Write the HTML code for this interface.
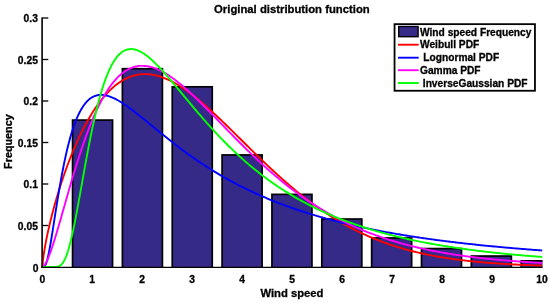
<!DOCTYPE html>
<html><head><meta charset="utf-8"><title>Original distribution function</title>
<style>html,body{margin:0;padding:0;background:#fff}svg{display:block}text{font-family:"Liberation Sans",Arial,sans-serif;font-weight:bold;fill:#000;stroke:#000;stroke-width:0.3px}</style></head>
<body><svg width="550" height="303" viewBox="0 0 550 303">
<rect width="550" height="303" fill="#fff"/>
<defs><clipPath id="c"><rect x="41.4" y="10" width="501.1" height="258.05"/></clipPath></defs>

<g clip-path="url(#c)" fill="#352a87" stroke="#000" stroke-width="1.7">
<rect x="72.55" y="120.09" width="40.00" height="151.91"/>
<rect x="122.40" y="68.71" width="40.00" height="203.29"/>
<rect x="172.25" y="86.81" width="40.00" height="185.19"/>
<rect x="222.10" y="154.95" width="40.00" height="117.05"/>
<rect x="271.95" y="194.38" width="40.00" height="77.62"/>
<rect x="321.80" y="219.03" width="40.00" height="52.97"/>
<rect x="371.65" y="237.95" width="40.00" height="34.05"/>
<rect x="421.50" y="248.57" width="40.00" height="23.43"/>
<rect x="471.35" y="256.04" width="40.00" height="15.96"/>
<rect x="521.20" y="260.86" width="40.00" height="11.14"/>
</g>
<g clip-path="url(#c)" fill="none" stroke-width="1.9" stroke-linejoin="round">
<path d="M42.40,267.00 L43.02,259.79 L43.65,255.07 L44.27,250.99 L44.90,247.27 L45.52,243.80 L46.15,240.52 L46.77,237.40 L47.40,234.40 L48.02,231.50 L48.65,228.70 L49.27,225.97 L49.90,223.32 L50.52,220.74 L51.15,218.21 L51.77,215.74 L52.40,213.33 L53.02,210.95 L53.65,208.63 L54.27,206.34 L54.90,204.10 L55.52,201.89 L56.15,199.72 L56.77,197.58 L57.40,195.48 L58.02,193.41 L58.65,191.37 L59.27,189.35 L59.90,187.37 L60.53,185.41 L61.15,183.48 L61.77,181.58 L62.40,179.70 L63.02,177.85 L63.65,176.02 L64.28,174.22 L64.90,172.44 L65.53,170.68 L66.15,168.94 L66.78,167.22 L67.40,165.53 L68.03,163.86 L68.65,162.21 L69.28,160.58 L69.90,158.97 L70.53,157.37 L71.15,155.80 L71.78,154.25 L72.40,152.72 L73.03,151.20 L73.65,149.71 L74.28,148.23 L74.90,146.77 L75.53,145.33 L76.15,143.91 L76.78,142.50 L77.40,141.11 L78.03,139.74 L78.65,138.39 L79.28,137.05 L79.90,135.74 L80.53,134.43 L81.15,133.15 L81.78,131.88 L82.40,130.63 L83.03,129.39 L83.65,128.17 L84.28,126.97 L84.90,125.78 L85.53,124.60 L86.15,123.45 L86.78,122.31 L87.40,121.18 L88.03,120.07 L88.65,118.98 L89.28,117.90 L89.90,116.83 L90.53,115.78 L91.15,114.75 L91.78,113.73 L92.40,112.73 L93.65,110.76 L94.90,108.86 L96.15,107.01 L97.40,105.22 L98.65,103.48 L99.90,101.81 L101.15,100.18 L102.40,98.61 L103.65,97.10 L104.90,95.64 L106.15,94.23 L107.40,92.88 L108.65,91.58 L109.90,90.33 L111.15,89.13 L112.40,87.98 L113.65,86.88 L114.90,85.83 L116.15,84.83 L117.40,83.88 L118.65,82.97 L119.90,82.12 L121.15,81.31 L122.40,80.54 L123.65,79.82 L124.90,79.15 L126.15,78.52 L127.40,77.94 L128.65,77.40 L129.90,76.90 L131.15,76.45 L132.40,76.04 L133.65,75.66 L134.90,75.33 L136.15,75.04 L137.40,74.79 L138.65,74.58 L139.90,74.41 L141.15,74.28 L142.40,74.18 L143.65,74.12 L144.90,74.10 L146.15,74.12 L147.40,74.16 L148.65,74.25 L149.90,74.37 L151.15,74.52 L152.40,74.70 L153.65,74.92 L154.90,75.17 L156.15,75.45 L157.40,75.76 L158.65,76.11 L159.90,76.48 L161.15,76.88 L162.40,77.31 L163.65,77.77 L164.90,78.26 L166.15,78.77 L167.40,79.31 L168.65,79.87 L169.90,80.47 L171.15,81.08 L172.40,81.72 L173.65,82.39 L174.90,83.07 L176.15,83.78 L177.40,84.52 L178.65,85.27 L179.90,86.04 L181.15,86.84 L182.40,87.65 L183.65,88.49 L184.90,89.34 L186.15,90.21 L187.40,91.11 L188.65,92.01 L189.90,92.94 L191.15,93.88 L192.40,94.84 L193.65,95.81 L194.90,96.80 L196.15,97.80 L197.40,98.81 L198.65,99.84 L199.90,100.88 L201.15,101.94 L202.40,103.01 L203.65,104.09 L204.90,105.17 L206.15,106.28 L207.40,107.39 L208.65,108.51 L209.90,109.64 L211.15,110.78 L212.40,111.92 L213.65,113.08 L214.90,114.24 L216.15,115.41 L217.40,116.59 L218.65,117.78 L219.90,118.97 L221.15,120.16 L222.40,121.36 L223.65,122.57 L224.90,123.78 L226.15,124.99 L227.40,126.21 L228.65,127.44 L229.90,128.66 L231.15,129.89 L232.40,131.12 L233.65,132.35 L234.90,133.59 L236.15,134.82 L237.40,136.06 L238.65,137.30 L239.90,138.54 L241.15,139.77 L242.40,141.01 L243.65,142.25 L244.90,143.49 L246.15,144.73 L247.40,145.96 L248.65,147.20 L249.90,148.43 L251.15,149.66 L252.40,150.89 L253.65,152.11 L254.90,153.33 L256.15,154.55 L257.40,155.77 L258.65,156.98 L259.90,158.19 L261.15,159.40 L262.40,160.60 L263.65,161.80 L264.90,162.99 L266.15,164.18 L267.40,165.36 L268.65,166.54 L269.90,167.71 L271.15,168.88 L272.40,170.04 L273.65,171.20 L274.90,172.35 L276.15,173.50 L277.40,174.63 L278.65,175.77 L279.90,176.89 L281.15,178.01 L282.40,179.12 L283.65,180.23 L284.90,181.33 L286.15,182.42 L287.40,183.51 L288.65,184.58 L289.90,185.65 L291.15,186.72 L292.40,187.77 L293.65,188.82 L294.90,189.86 L296.15,190.89 L297.40,191.91 L298.65,192.93 L299.90,193.94 L301.15,194.94 L302.40,195.93 L303.65,196.91 L304.90,197.89 L306.15,198.86 L307.40,199.81 L308.65,200.77 L309.90,201.71 L311.15,202.64 L312.40,203.56 L313.65,204.48 L314.90,205.39 L316.15,206.29 L317.40,207.18 L318.65,208.06 L319.90,208.93 L321.15,209.80 L322.40,210.65 L323.65,211.50 L324.90,212.34 L326.15,213.17 L327.40,213.99 L328.65,214.80 L329.90,215.60 L331.15,216.40 L332.40,217.19 L333.65,217.96 L334.90,218.73 L336.15,219.49 L337.40,220.24 L338.65,220.99 L339.90,221.72 L341.15,222.45 L342.40,223.17 L343.65,223.87 L344.90,224.57 L346.15,225.27 L347.40,225.95 L348.65,226.63 L349.90,227.29 L351.15,227.95 L352.40,228.60 L353.65,229.24 L354.90,229.88 L356.15,230.50 L357.40,231.12 L358.65,231.73 L359.90,232.33 L361.15,232.93 L362.40,233.51 L363.65,234.09 L364.90,234.66 L366.15,235.23 L367.40,235.78 L368.65,236.33 L369.90,236.87 L371.15,237.40 L372.40,237.93 L373.65,238.44 L374.90,238.95 L376.15,239.46 L377.40,239.95 L378.65,240.44 L379.90,240.92 L381.15,241.40 L382.40,241.86 L383.65,242.33 L384.90,242.78 L386.15,243.23 L387.40,243.67 L388.65,244.10 L389.90,244.53 L391.15,244.95 L392.40,245.36 L393.65,245.77 L394.90,246.17 L396.15,246.57 L397.40,246.96 L398.65,247.34 L399.90,247.71 L401.15,248.09 L402.40,248.45 L403.65,248.81 L404.90,249.16 L406.15,249.51 L407.40,249.85 L408.65,250.19 L409.90,250.52 L411.15,250.84 L412.40,251.16 L413.65,251.48 L414.90,251.79 L416.15,252.09 L417.40,252.39 L418.65,252.68 L419.90,252.97 L421.15,253.26 L422.40,253.53 L423.65,253.81 L424.90,254.08 L426.15,254.34 L427.40,254.60 L428.65,254.86 L429.90,255.11 L431.15,255.35 L432.40,255.60 L433.65,255.83 L434.90,256.07 L436.15,256.30 L437.40,256.52 L438.65,256.74 L439.90,256.96 L441.15,257.17 L442.40,257.38 L443.65,257.59 L444.90,257.79 L446.15,257.98 L447.40,258.18 L448.65,258.37 L449.90,258.55 L451.15,258.74 L452.40,258.92 L453.65,259.09 L454.90,259.27 L456.15,259.44 L457.40,259.60 L458.65,259.76 L459.90,259.92 L461.15,260.08 L462.40,260.23 L463.65,260.39 L464.90,260.53 L466.15,260.68 L467.40,260.82 L468.65,260.96 L469.90,261.09 L471.15,261.23 L472.40,261.36 L473.65,261.49 L474.90,261.61 L476.15,261.74 L477.40,261.86 L478.65,261.97 L479.90,262.09 L481.15,262.20 L482.40,262.31 L483.65,262.42 L484.90,262.53 L486.15,262.63 L487.40,262.74 L488.65,262.84 L489.90,262.93 L491.15,263.03 L492.40,263.12 L493.65,263.21 L494.90,263.30 L496.15,263.39 L497.40,263.48 L498.65,263.56 L499.90,263.64 L501.15,263.72 L502.40,263.80 L503.65,263.88 L504.90,263.96 L506.15,264.03 L507.40,264.10 L508.65,264.17 L509.90,264.24 L511.15,264.31 L512.40,264.37 L513.65,264.44 L514.90,264.50 L516.15,264.56 L517.40,264.62 L518.65,264.68 L519.90,264.74 L521.15,264.80 L522.40,264.85 L523.65,264.90 L524.90,264.96 L526.15,265.01 L527.40,265.06 L528.65,265.11 L529.90,265.15 L531.15,265.20 L532.40,265.25 L533.65,265.29 L534.90,265.34 L536.15,265.38 L537.40,265.42 L538.65,265.46 L539.90,265.50 L541.15,265.54 L542.40,265.58" stroke="#ff0000"/>
<path d="M42.40,267.00 L43.02,267.00 L43.65,266.91 L44.27,266.60 L44.90,265.95 L45.52,264.89 L46.15,263.42 L46.77,261.54 L47.40,259.29 L48.02,256.69 L48.65,253.80 L49.27,250.66 L49.90,247.30 L50.52,243.76 L51.15,240.07 L51.77,236.27 L52.40,232.39 L53.02,228.44 L53.65,224.46 L54.27,220.46 L54.90,216.45 L55.52,212.46 L56.15,208.49 L56.77,204.56 L57.40,200.67 L58.02,196.84 L58.65,193.07 L59.27,189.36 L59.90,185.73 L60.53,182.17 L61.15,178.69 L61.77,175.29 L62.40,171.98 L63.02,168.75 L63.65,165.60 L64.28,162.54 L64.90,159.57 L65.53,156.68 L66.15,153.88 L66.78,151.16 L67.40,148.53 L68.03,145.98 L68.65,143.52 L69.28,141.14 L69.90,138.83 L70.53,136.61 L71.15,134.47 L71.78,132.40 L72.40,130.40 L73.03,128.48 L73.65,126.63 L74.28,124.85 L74.90,123.14 L75.53,121.50 L76.15,119.92 L76.78,118.41 L77.40,116.96 L78.03,115.57 L78.65,114.24 L79.28,112.96 L79.90,111.75 L80.53,110.59 L81.15,109.48 L81.78,108.42 L82.40,107.42 L83.03,106.46 L83.65,105.55 L84.28,104.69 L84.90,103.87 L85.53,103.10 L86.15,102.36 L86.78,101.67 L87.40,101.03 L88.03,100.42 L88.65,99.84 L89.28,99.31 L89.90,98.81 L90.53,98.34 L91.15,97.91 L91.78,97.51 L92.40,97.15 L93.65,96.51 L94.90,95.98 L96.15,95.56 L97.40,95.25 L98.65,95.03 L99.90,94.91 L101.15,94.86 L102.40,94.90 L103.65,95.01 L104.90,95.20 L106.15,95.45 L107.40,95.76 L108.65,96.12 L109.90,96.54 L111.15,97.02 L112.40,97.53 L113.65,98.10 L114.90,98.70 L116.15,99.34 L117.40,100.02 L118.65,100.73 L119.90,101.47 L121.15,102.24 L122.40,103.04 L123.65,103.86 L124.90,104.70 L126.15,105.56 L127.40,106.44 L128.65,107.34 L129.90,108.26 L131.15,109.19 L132.40,110.13 L133.65,111.09 L134.90,112.05 L136.15,113.03 L137.40,114.02 L138.65,115.01 L139.90,116.01 L141.15,117.01 L142.40,118.02 L143.65,119.04 L144.90,120.05 L146.15,121.08 L147.40,122.10 L148.65,123.12 L149.90,124.15 L151.15,125.17 L152.40,126.20 L153.65,127.23 L154.90,128.25 L156.15,129.27 L157.40,130.29 L158.65,131.31 L159.90,132.33 L161.15,133.34 L162.40,134.35 L163.65,135.36 L164.90,136.36 L166.15,137.36 L167.40,138.36 L168.65,139.35 L169.90,140.34 L171.15,141.32 L172.40,142.29 L173.65,143.26 L174.90,144.23 L176.15,145.19 L177.40,146.15 L178.65,147.09 L179.90,148.04 L181.15,148.97 L182.40,149.91 L183.65,150.83 L184.90,151.75 L186.15,152.66 L187.40,153.57 L188.65,154.47 L189.90,155.36 L191.15,156.25 L192.40,157.13 L193.65,158.00 L194.90,158.87 L196.15,159.73 L197.40,160.59 L198.65,161.44 L199.90,162.28 L201.15,163.11 L202.40,163.94 L203.65,164.76 L204.90,165.58 L206.15,166.38 L207.40,167.19 L208.65,167.98 L209.90,168.77 L211.15,169.55 L212.40,170.33 L213.65,171.10 L214.90,171.86 L216.15,172.61 L217.40,173.36 L218.65,174.11 L219.90,174.84 L221.15,175.58 L222.40,176.30 L223.65,177.02 L224.90,177.73 L226.15,178.43 L227.40,179.13 L228.65,179.83 L229.90,180.51 L231.15,181.20 L232.40,181.87 L233.65,182.54 L234.90,183.20 L236.15,183.86 L237.40,184.51 L238.65,185.16 L239.90,185.80 L241.15,186.43 L242.40,187.06 L243.65,187.68 L244.90,188.30 L246.15,188.91 L247.40,189.52 L248.65,190.12 L249.90,190.72 L251.15,191.31 L252.40,191.89 L253.65,192.47 L254.90,193.05 L256.15,193.62 L257.40,194.18 L258.65,194.74 L259.90,195.29 L261.15,195.84 L262.40,196.39 L263.65,196.92 L264.90,197.46 L266.15,197.99 L267.40,198.51 L268.65,199.03 L269.90,199.55 L271.15,200.06 L272.40,200.57 L273.65,201.07 L274.90,201.56 L276.15,202.06 L277.40,202.55 L278.65,203.03 L279.90,203.51 L281.15,203.98 L282.40,204.45 L283.65,204.92 L284.90,205.38 L286.15,205.84 L287.40,206.30 L288.65,206.75 L289.90,207.19 L291.15,207.64 L292.40,208.07 L293.65,208.51 L294.90,208.94 L296.15,209.36 L297.40,209.79 L298.65,210.21 L299.90,210.62 L301.15,211.03 L302.40,211.44 L303.65,211.85 L304.90,212.25 L306.15,212.64 L307.40,213.04 L308.65,213.43 L309.90,213.82 L311.15,214.20 L312.40,214.58 L313.65,214.96 L314.90,215.33 L316.15,215.70 L317.40,216.07 L318.65,216.43 L319.90,216.79 L321.15,217.15 L322.40,217.50 L323.65,217.85 L324.90,218.20 L326.15,218.55 L327.40,218.89 L328.65,219.23 L329.90,219.57 L331.15,219.90 L332.40,220.23 L333.65,220.56 L334.90,220.88 L336.15,221.20 L337.40,221.52 L338.65,221.84 L339.90,222.15 L341.15,222.47 L342.40,222.77 L343.65,223.08 L344.90,223.38 L346.15,223.68 L347.40,223.98 L348.65,224.28 L349.90,224.57 L351.15,224.86 L352.40,225.15 L353.65,225.44 L354.90,225.72 L356.15,226.00 L357.40,226.28 L358.65,226.56 L359.90,226.83 L361.15,227.10 L362.40,227.37 L363.65,227.64 L364.90,227.90 L366.15,228.17 L367.40,228.43 L368.65,228.68 L369.90,228.94 L371.15,229.20 L372.40,229.45 L373.65,229.70 L374.90,229.95 L376.15,230.19 L377.40,230.43 L378.65,230.68 L379.90,230.92 L381.15,231.15 L382.40,231.39 L383.65,231.62 L384.90,231.86 L386.15,232.09 L387.40,232.32 L388.65,232.54 L389.90,232.77 L391.15,232.99 L392.40,233.21 L393.65,233.43 L394.90,233.65 L396.15,233.86 L397.40,234.08 L398.65,234.29 L399.90,234.50 L401.15,234.71 L402.40,234.92 L403.65,235.12 L404.90,235.33 L406.15,235.53 L407.40,235.73 L408.65,235.93 L409.90,236.13 L411.15,236.32 L412.40,236.52 L413.65,236.71 L414.90,236.90 L416.15,237.09 L417.40,237.28 L418.65,237.47 L419.90,237.65 L421.15,237.84 L422.40,238.02 L423.65,238.20 L424.90,238.38 L426.15,238.56 L427.40,238.74 L428.65,238.91 L429.90,239.09 L431.15,239.26 L432.40,239.43 L433.65,239.60 L434.90,239.77 L436.15,239.94 L437.40,240.11 L438.65,240.27 L439.90,240.43 L441.15,240.60 L442.40,240.76 L443.65,240.92 L444.90,241.08 L446.15,241.24 L447.40,241.39 L448.65,241.55 L449.90,241.70 L451.15,241.86 L452.40,242.01 L453.65,242.16 L454.90,242.31 L456.15,242.46 L457.40,242.60 L458.65,242.75 L459.90,242.90 L461.15,243.04 L462.40,243.18 L463.65,243.32 L464.90,243.47 L466.15,243.61 L467.40,243.74 L468.65,243.88 L469.90,244.02 L471.15,244.16 L472.40,244.29 L473.65,244.42 L474.90,244.56 L476.15,244.69 L477.40,244.82 L478.65,244.95 L479.90,245.08 L481.15,245.21 L482.40,245.33 L483.65,245.46 L484.90,245.59 L486.15,245.71 L487.40,245.83 L488.65,245.96 L489.90,246.08 L491.15,246.20 L492.40,246.32 L493.65,246.44 L494.90,246.56 L496.15,246.67 L497.40,246.79 L498.65,246.91 L499.90,247.02 L501.15,247.14 L502.40,247.25 L503.65,247.36 L504.90,247.47 L506.15,247.58 L507.40,247.69 L508.65,247.80 L509.90,247.91 L511.15,248.02 L512.40,248.13 L513.65,248.23 L514.90,248.34 L516.15,248.44 L517.40,248.55 L518.65,248.65 L519.90,248.75 L521.15,248.86 L522.40,248.96 L523.65,249.06 L524.90,249.16 L526.15,249.26 L527.40,249.36 L528.65,249.45 L529.90,249.55 L531.15,249.65 L532.40,249.74 L533.65,249.84 L534.90,249.93 L536.15,250.03 L537.40,250.12 L538.65,250.21 L539.90,250.30 L541.15,250.40 L542.40,250.49" stroke="#0000ff"/>
<path d="M42.40,267.00 L43.02,266.74 L43.65,266.20 L44.27,265.46 L44.90,264.57 L45.52,263.54 L46.15,262.39 L46.77,261.13 L47.40,259.78 L48.02,258.35 L48.65,256.83 L49.27,255.25 L49.90,253.59 L50.52,251.88 L51.15,250.12 L51.77,248.30 L52.40,246.44 L53.02,244.54 L53.65,242.60 L54.27,240.62 L54.90,238.62 L55.52,236.58 L56.15,234.52 L56.77,232.44 L57.40,230.34 L58.02,228.21 L58.65,226.08 L59.27,223.92 L59.90,221.76 L60.53,219.59 L61.15,217.40 L61.77,215.21 L62.40,213.02 L63.02,210.82 L63.65,208.62 L64.28,206.42 L64.90,204.22 L65.53,202.02 L66.15,199.83 L66.78,197.64 L67.40,195.45 L68.03,193.27 L68.65,191.10 L69.28,188.94 L69.90,186.78 L70.53,184.64 L71.15,182.50 L71.78,180.38 L72.40,178.27 L73.03,176.17 L73.65,174.08 L74.28,172.01 L74.90,169.96 L75.53,167.91 L76.15,165.89 L76.78,163.88 L77.40,161.89 L78.03,159.91 L78.65,157.95 L79.28,156.01 L79.90,154.09 L80.53,152.19 L81.15,150.30 L81.78,148.44 L82.40,146.59 L83.03,144.76 L83.65,142.96 L84.28,141.17 L84.90,139.41 L85.53,137.67 L86.15,135.94 L86.78,134.24 L87.40,132.56 L88.03,130.90 L88.65,129.27 L89.28,127.65 L89.90,126.06 L90.53,124.48 L91.15,122.94 L91.78,121.41 L92.40,119.90 L93.65,116.96 L94.90,114.10 L96.15,111.34 L97.40,108.66 L98.65,106.08 L99.90,103.58 L101.15,101.17 L102.40,98.85 L103.65,96.62 L104.90,94.48 L106.15,92.42 L107.40,90.45 L108.65,88.56 L109.90,86.76 L111.15,85.04 L112.40,83.41 L113.65,81.85 L114.90,80.38 L116.15,78.99 L117.40,77.67 L118.65,76.43 L119.90,75.27 L121.15,74.18 L122.40,73.16 L123.65,72.22 L124.90,71.35 L126.15,70.54 L127.40,69.81 L128.65,69.14 L129.90,68.54 L131.15,68.00 L132.40,67.52 L133.65,67.11 L134.90,66.76 L136.15,66.46 L137.40,66.23 L138.65,66.05 L139.90,65.92 L141.15,65.85 L142.40,65.83 L143.65,65.87 L144.90,65.95 L146.15,66.08 L147.40,66.26 L148.65,66.48 L149.90,66.75 L151.15,67.06 L152.40,67.42 L153.65,67.82 L154.90,68.25 L156.15,68.73 L157.40,69.24 L158.65,69.79 L159.90,70.38 L161.15,71.00 L162.40,71.65 L163.65,72.34 L164.90,73.05 L166.15,73.80 L167.40,74.57 L168.65,75.38 L169.90,76.21 L171.15,77.07 L172.40,77.95 L173.65,78.85 L174.90,79.78 L176.15,80.74 L177.40,81.71 L178.65,82.70 L179.90,83.72 L181.15,84.75 L182.40,85.80 L183.65,86.87 L184.90,87.96 L186.15,89.06 L187.40,90.17 L188.65,91.30 L189.90,92.45 L191.15,93.60 L192.40,94.77 L193.65,95.95 L194.90,97.14 L196.15,98.34 L197.40,99.55 L198.65,100.77 L199.90,102.00 L201.15,103.23 L202.40,104.48 L203.65,105.73 L204.90,106.98 L206.15,108.24 L207.40,109.51 L208.65,110.78 L209.90,112.05 L211.15,113.33 L212.40,114.61 L213.65,115.89 L214.90,117.18 L216.15,118.47 L217.40,119.76 L218.65,121.05 L219.90,122.34 L221.15,123.63 L222.40,124.92 L223.65,126.21 L224.90,127.50 L226.15,128.78 L227.40,130.07 L228.65,131.35 L229.90,132.64 L231.15,133.92 L232.40,135.19 L233.65,136.47 L234.90,137.74 L236.15,139.00 L237.40,140.27 L238.65,141.52 L239.90,142.78 L241.15,144.03 L242.40,145.27 L243.65,146.51 L244.90,147.75 L246.15,148.98 L247.40,150.20 L248.65,151.42 L249.90,152.63 L251.15,153.84 L252.40,155.04 L253.65,156.24 L254.90,157.42 L256.15,158.60 L257.40,159.78 L258.65,160.95 L259.90,162.11 L261.15,163.26 L262.40,164.41 L263.65,165.54 L264.90,166.68 L266.15,167.80 L267.40,168.92 L268.65,170.02 L269.90,171.13 L271.15,172.22 L272.40,173.30 L273.65,174.38 L274.90,175.45 L276.15,176.51 L277.40,177.56 L278.65,178.61 L279.90,179.64 L281.15,180.67 L282.40,181.69 L283.65,182.70 L284.90,183.71 L286.15,184.70 L287.40,185.69 L288.65,186.67 L289.90,187.64 L291.15,188.60 L292.40,189.55 L293.65,190.49 L294.90,191.43 L296.15,192.36 L297.40,193.27 L298.65,194.18 L299.90,195.09 L301.15,195.98 L302.40,196.87 L303.65,197.74 L304.90,198.61 L306.15,199.47 L307.40,200.32 L308.65,201.16 L309.90,202.00 L311.15,202.83 L312.40,203.64 L313.65,204.45 L314.90,205.25 L316.15,206.05 L317.40,206.83 L318.65,207.61 L319.90,208.38 L321.15,209.14 L322.40,209.89 L323.65,210.64 L324.90,211.38 L326.15,212.11 L327.40,212.83 L328.65,213.54 L329.90,214.25 L331.15,214.94 L332.40,215.64 L333.65,216.32 L334.90,216.99 L336.15,217.66 L337.40,218.32 L338.65,218.97 L339.90,219.62 L341.15,220.26 L342.40,220.89 L343.65,221.51 L344.90,222.13 L346.15,222.74 L347.40,223.34 L348.65,223.94 L349.90,224.52 L351.15,225.10 L352.40,225.68 L353.65,226.25 L354.90,226.81 L356.15,227.36 L357.40,227.91 L358.65,228.45 L359.90,228.99 L361.15,229.51 L362.40,230.03 L363.65,230.55 L364.90,231.06 L366.15,231.56 L367.40,232.06 L368.65,232.55 L369.90,233.03 L371.15,233.51 L372.40,233.98 L373.65,234.45 L374.90,234.91 L376.15,235.37 L377.40,235.82 L378.65,236.26 L379.90,236.70 L381.15,237.13 L382.40,237.56 L383.65,237.98 L384.90,238.39 L386.15,238.80 L387.40,239.21 L388.65,239.61 L389.90,240.00 L391.15,240.39 L392.40,240.78 L393.65,241.16 L394.90,241.53 L396.15,241.90 L397.40,242.27 L398.65,242.63 L399.90,242.98 L401.15,243.33 L402.40,243.68 L403.65,244.02 L404.90,244.36 L406.15,244.69 L407.40,245.02 L408.65,245.34 L409.90,245.66 L411.15,245.97 L412.40,246.28 L413.65,246.59 L414.90,246.89 L416.15,247.19 L417.40,247.48 L418.65,247.77 L419.90,248.06 L421.15,248.34 L422.40,248.62 L423.65,248.89 L424.90,249.16 L426.15,249.43 L427.40,249.69 L428.65,249.95 L429.90,250.21 L431.15,250.46 L432.40,250.71 L433.65,250.96 L434.90,251.20 L436.15,251.44 L437.40,251.67 L438.65,251.90 L439.90,252.13 L441.15,252.36 L442.40,252.58 L443.65,252.80 L444.90,253.02 L446.15,253.23 L447.40,253.44 L448.65,253.64 L449.90,253.85 L451.15,254.05 L452.40,254.25 L453.65,254.44 L454.90,254.64 L456.15,254.82 L457.40,255.01 L458.65,255.20 L459.90,255.38 L461.15,255.56 L462.40,255.73 L463.65,255.91 L464.90,256.08 L466.15,256.25 L467.40,256.41 L468.65,256.58 L469.90,256.74 L471.15,256.90 L472.40,257.05 L473.65,257.21 L474.90,257.36 L476.15,257.51 L477.40,257.66 L478.65,257.80 L479.90,257.95 L481.15,258.09 L482.40,258.23 L483.65,258.37 L484.90,258.50 L486.15,258.63 L487.40,258.77 L488.65,258.89 L489.90,259.02 L491.15,259.15 L492.40,259.27 L493.65,259.39 L494.90,259.51 L496.15,259.63 L497.40,259.75 L498.65,259.86 L499.90,259.97 L501.15,260.09 L502.40,260.19 L503.65,260.30 L504.90,260.41 L506.15,260.51 L507.40,260.62 L508.65,260.72 L509.90,260.82 L511.15,260.92 L512.40,261.01 L513.65,261.11 L514.90,261.20 L516.15,261.29 L517.40,261.39 L518.65,261.48 L519.90,261.56 L521.15,261.65 L522.40,261.74 L523.65,261.82 L524.90,261.90 L526.15,261.99 L527.40,262.07 L528.65,262.15 L529.90,262.22 L531.15,262.30 L532.40,262.38 L533.65,262.45 L534.90,262.52 L536.15,262.60 L537.40,262.67 L538.65,262.74 L539.90,262.81 L541.15,262.87 L542.40,262.94" stroke="#ff00ff"/>
<path d="M42.40,267.00 L43.02,267.00 L43.65,267.00 L44.27,267.00 L44.90,267.00 L45.52,267.00 L46.15,267.00 L46.77,267.00 L47.40,267.00 L48.02,267.00 L48.65,267.00 L49.27,267.00 L49.90,267.00 L50.52,267.00 L51.15,267.00 L51.77,267.00 L52.40,267.00 L53.02,267.00 L53.65,266.99 L54.27,266.98 L54.90,266.96 L55.52,266.92 L56.15,266.87 L56.77,266.79 L57.40,266.68 L58.02,266.52 L58.65,266.31 L59.27,266.04 L59.90,265.70 L60.53,265.27 L61.15,264.75 L61.77,264.13 L62.40,263.39 L63.02,262.54 L63.65,261.56 L64.28,260.45 L64.90,259.21 L65.53,257.83 L66.15,256.31 L66.78,254.66 L67.40,252.86 L68.03,250.93 L68.65,248.86 L69.28,246.66 L69.90,244.33 L70.53,241.88 L71.15,239.32 L71.78,236.64 L72.40,233.86 L73.03,230.98 L73.65,228.01 L74.28,224.96 L74.90,221.82 L75.53,218.62 L76.15,215.36 L76.78,212.04 L77.40,208.67 L78.03,205.26 L78.65,201.82 L79.28,198.35 L79.90,194.86 L80.53,191.35 L81.15,187.83 L81.78,184.31 L82.40,180.79 L83.03,177.27 L83.65,173.77 L84.28,170.28 L84.90,166.81 L85.53,163.37 L86.15,159.96 L86.78,156.57 L87.40,153.22 L88.03,149.91 L88.65,146.64 L89.28,143.42 L89.90,140.24 L90.53,137.10 L91.15,134.02 L91.78,130.99 L92.40,128.01 L93.65,122.22 L94.90,116.66 L96.15,111.33 L97.40,106.25 L98.65,101.40 L99.90,96.80 L101.15,92.45 L102.40,88.34 L103.65,84.47 L104.90,80.83 L106.15,77.43 L107.40,74.26 L108.65,71.31 L109.90,68.58 L111.15,66.06 L112.40,63.74 L113.65,61.62 L114.90,59.69 L116.15,57.95 L117.40,56.39 L118.65,55.00 L119.90,53.77 L121.15,52.70 L122.40,51.78 L123.65,51.00 L124.90,50.37 L126.15,49.86 L127.40,49.48 L128.65,49.22 L129.90,49.08 L131.15,49.04 L132.40,49.11 L133.65,49.28 L134.90,49.53 L136.15,49.88 L137.40,50.31 L138.65,50.82 L139.90,51.41 L141.15,52.06 L142.40,52.78 L143.65,53.57 L144.90,54.41 L146.15,55.31 L147.40,56.26 L148.65,57.26 L149.90,58.30 L151.15,59.39 L152.40,60.52 L153.65,61.68 L154.90,62.88 L156.15,64.12 L157.40,65.38 L158.65,66.67 L159.90,67.99 L161.15,69.32 L162.40,70.69 L163.65,72.07 L164.90,73.46 L166.15,74.88 L167.40,76.31 L168.65,77.75 L169.90,79.21 L171.15,80.67 L172.40,82.15 L173.65,83.63 L174.90,85.12 L176.15,86.61 L177.40,88.11 L178.65,89.61 L179.90,91.12 L181.15,92.63 L182.40,94.14 L183.65,95.64 L184.90,97.15 L186.15,98.66 L187.40,100.16 L188.65,101.67 L189.90,103.16 L191.15,104.66 L192.40,106.15 L193.65,107.64 L194.90,109.12 L196.15,110.59 L197.40,112.06 L198.65,113.52 L199.90,114.98 L201.15,116.42 L202.40,117.86 L203.65,119.30 L204.90,120.72 L206.15,122.14 L207.40,123.55 L208.65,124.94 L209.90,126.33 L211.15,127.71 L212.40,129.08 L213.65,130.45 L214.90,131.80 L216.15,133.14 L217.40,134.47 L218.65,135.79 L219.90,137.10 L221.15,138.41 L222.40,139.70 L223.65,140.98 L224.90,142.25 L226.15,143.51 L227.40,144.75 L228.65,145.99 L229.90,147.22 L231.15,148.44 L232.40,149.64 L233.65,150.84 L234.90,152.02 L236.15,153.20 L237.40,154.36 L238.65,155.52 L239.90,156.66 L241.15,157.79 L242.40,158.91 L243.65,160.02 L244.90,161.12 L246.15,162.21 L247.40,163.29 L248.65,164.36 L249.90,165.42 L251.15,166.46 L252.40,167.50 L253.65,168.53 L254.90,169.55 L256.15,170.55 L257.40,171.55 L258.65,172.54 L259.90,173.52 L261.15,174.48 L262.40,175.44 L263.65,176.39 L264.90,177.33 L266.15,178.26 L267.40,179.17 L268.65,180.08 L269.90,180.99 L271.15,181.88 L272.40,182.76 L273.65,183.63 L274.90,184.49 L276.15,185.35 L277.40,186.20 L278.65,187.03 L279.90,187.86 L281.15,188.68 L282.40,189.49 L283.65,190.29 L284.90,191.09 L286.15,191.87 L287.40,192.65 L288.65,193.42 L289.90,194.18 L291.15,194.93 L292.40,195.68 L293.65,196.42 L294.90,197.15 L296.15,197.87 L297.40,198.58 L298.65,199.29 L299.90,199.99 L301.15,200.68 L302.40,201.36 L303.65,202.04 L304.90,202.71 L306.15,203.37 L307.40,204.02 L308.65,204.67 L309.90,205.31 L311.15,205.95 L312.40,206.57 L313.65,207.19 L314.90,207.81 L316.15,208.42 L317.40,209.02 L318.65,209.61 L319.90,210.20 L321.15,210.78 L322.40,211.36 L323.65,211.93 L324.90,212.49 L326.15,213.05 L327.40,213.60 L328.65,214.14 L329.90,214.68 L331.15,215.21 L332.40,215.74 L333.65,216.26 L334.90,216.78 L336.15,217.29 L337.40,217.80 L338.65,218.30 L339.90,218.79 L341.15,219.28 L342.40,219.77 L343.65,220.24 L344.90,220.72 L346.15,221.19 L347.40,221.65 L348.65,222.11 L349.90,222.56 L351.15,223.01 L352.40,223.46 L353.65,223.90 L354.90,224.33 L356.15,224.76 L357.40,225.19 L358.65,225.61 L359.90,226.02 L361.15,226.43 L362.40,226.84 L363.65,227.25 L364.90,227.64 L366.15,228.04 L367.40,228.43 L368.65,228.82 L369.90,229.20 L371.15,229.58 L372.40,229.95 L373.65,230.32 L374.90,230.69 L376.15,231.05 L377.40,231.41 L378.65,231.76 L379.90,232.11 L381.15,232.46 L382.40,232.80 L383.65,233.14 L384.90,233.48 L386.15,233.81 L387.40,234.14 L388.65,234.47 L389.90,234.79 L391.15,235.11 L392.40,235.42 L393.65,235.74 L394.90,236.04 L396.15,236.35 L397.40,236.65 L398.65,236.95 L399.90,237.25 L401.15,237.54 L402.40,237.83 L403.65,238.12 L404.90,238.40 L406.15,238.68 L407.40,238.96 L408.65,239.23 L409.90,239.51 L411.15,239.78 L412.40,240.04 L413.65,240.31 L414.90,240.57 L416.15,240.83 L417.40,241.08 L418.65,241.33 L419.90,241.58 L421.15,241.83 L422.40,242.08 L423.65,242.32 L424.90,242.56 L426.15,242.80 L427.40,243.03 L428.65,243.26 L429.90,243.49 L431.15,243.72 L432.40,243.95 L433.65,244.17 L434.90,244.39 L436.15,244.61 L437.40,244.83 L438.65,245.04 L439.90,245.25 L441.15,245.46 L442.40,245.67 L443.65,245.88 L444.90,246.08 L446.15,246.28 L447.40,246.48 L448.65,246.68 L449.90,246.87 L451.15,247.06 L452.40,247.26 L453.65,247.44 L454.90,247.63 L456.15,247.82 L457.40,248.00 L458.65,248.18 L459.90,248.36 L461.15,248.54 L462.40,248.72 L463.65,248.89 L464.90,249.06 L466.15,249.23 L467.40,249.40 L468.65,249.57 L469.90,249.74 L471.15,249.90 L472.40,250.06 L473.65,250.22 L474.90,250.38 L476.15,250.54 L477.40,250.70 L478.65,250.85 L479.90,251.00 L481.15,251.15 L482.40,251.30 L483.65,251.45 L484.90,251.60 L486.15,251.74 L487.40,251.89 L488.65,252.03 L489.90,252.17 L491.15,252.31 L492.40,252.45 L493.65,252.58 L494.90,252.72 L496.15,252.85 L497.40,252.99 L498.65,253.12 L499.90,253.25 L501.15,253.38 L502.40,253.50 L503.65,253.63 L504.90,253.76 L506.15,253.88 L507.40,254.00 L508.65,254.12 L509.90,254.24 L511.15,254.36 L512.40,254.48 L513.65,254.60 L514.90,254.71 L516.15,254.83 L517.40,254.94 L518.65,255.05 L519.90,255.16 L521.15,255.27 L522.40,255.38 L523.65,255.49 L524.90,255.59 L526.15,255.70 L527.40,255.80 L528.65,255.91 L529.90,256.01 L531.15,256.11 L532.40,256.21 L533.65,256.31 L534.90,256.41 L536.15,256.51 L537.40,256.60 L538.65,256.70 L539.90,256.80 L541.15,256.89 L542.40,256.98" stroke="#00ff00"/>
</g>
<g stroke="#000" fill="none">
<path d="M42.1 17.4V268.05" stroke-width="1.6"/><path d="M41.3 267.4H542.5" stroke-width="1.3"/>
<g stroke-width="1.3">
<path d="M42.1 225.50h6.2"/>
<path d="M42.1 184.00h6.2"/>
<path d="M42.1 142.50h6.2"/>
<path d="M42.1 101.00h6.2"/>
<path d="M42.1 59.50h6.2"/>
<path d="M42.1 18.00h6.2"/>
</g></g>
<g font-size="10.3" text-anchor="end">
<text x="38.4" y="271.90">0</text>
<text x="37.9" y="229.60">0.05</text>
<text x="37.9" y="188.10">0.1</text>
<text x="37.9" y="146.60">0.15</text>
<text x="37.9" y="105.10">0.2</text>
<text x="37.9" y="63.60">0.25</text>
<text x="37.9" y="22.10">0.3</text>
</g><g font-size="10.3" text-anchor="middle">
<text x="42.40" y="282.6">0</text>
<text x="92.10" y="282.6">1</text>
<text x="142.10" y="282.6">2</text>
<text x="192.10" y="282.6">3</text>
<text x="242.10" y="282.6">4</text>
<text x="292.10" y="282.6">5</text>
<text x="342.10" y="282.6">6</text>
<text x="392.10" y="282.6">7</text>
<text x="442.10" y="282.6">8</text>
<text x="492.10" y="282.6">9</text>
<text x="542.10" y="282.6">10</text>
</g>
<text x="291.9" y="12.8" font-size="11.3" text-anchor="middle">Original distribution function</text>
<text x="291.9" y="296.8" font-size="11.25" text-anchor="middle">Wind speed</text>
<text transform="translate(11.9 141.6) rotate(-90)" font-size="10.8" text-anchor="middle">Frequency</text>
<rect x="394.55" y="24.15" width="140.4" height="66.6" fill="#fff" stroke="#000" stroke-width="1.8"/>
<rect x="398.7" y="26.5" width="19.4" height="10.2" fill="#352a87" stroke="#000" stroke-width="1.4"/>
<path d="M398 44.7H418.7" stroke="#ff0000" stroke-width="1.9"/>
<path d="M398 57.7H418.7" stroke="#0000ff" stroke-width="1.9"/>
<path d="M398 70.2H418.7" stroke="#ff00ff" stroke-width="1.9"/>
<path d="M398 83.0H418.7" stroke="#00ff00" stroke-width="1.9"/>
<g font-size="10.2">
<text x="420.0" y="35.7">Wind speed Frequency</text>
<text x="420.0" y="48.2">Weibull PDF</text>
<text x="423.3" y="61.3">Lognormal PDF</text>
<text x="420.0" y="74.1">Gamma PDF</text>
<text x="422.8" y="86.95">InverseGaussian PDF</text>
</g>
</svg></body></html>
